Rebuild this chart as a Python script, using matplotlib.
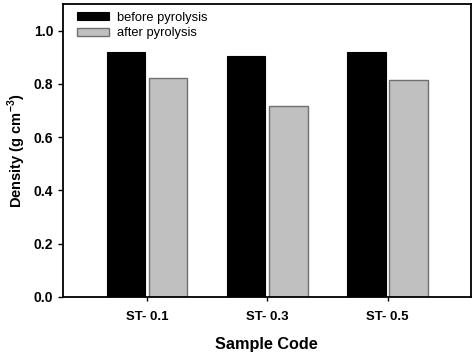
import matplotlib
matplotlib.use("Agg")
import matplotlib.pyplot as plt
import numpy as np

plt.rcParams['font.family'] = ['Liberation Sans', 'DejaVu Sans']
plt.rcParams['mathtext.fontset'] = 'custom'
plt.rcParams['mathtext.rm'] = 'Liberation Sans'
plt.rcParams['mathtext.bf'] = 'Liberation Sans:bold'

categories = ["ST- 0.1", "ST- 0.3", "ST- 0.5"]
before = [0.920, 0.906, 0.920]
after = [0.824, 0.718, 0.813]
yticks = [0.0, 0.2, 0.4, 0.6, 0.8, 1.0]

fig = plt.figure(figsize=(4.74, 3.56), dpi=100)
ax = fig.add_axes([63/474, 1-297/356, (470.5-63)/474, (297-4)/356])

x = np.arange(len(categories))
w = 0.318
ax.bar(x - 0.175, before, w, color='black', edgecolor='black', linewidth=0.8, label='before pyrolysis')
ax.bar(x + 0.175, after, w, color='#c0c0c0', edgecolor='#707070', linewidth=1.0, label='after pyrolysis')

ax.set_xlim(-0.70, 2.69)
ax.set_ylim(0, 1.1)
ax.set_xticks(x)
ax.set_xticklabels(categories, fontsize=9.5, fontweight='bold')
ax.set_yticks(yticks)
ax.set_yticklabels([f"{v:.1f}" for v in yticks], fontsize=10, fontweight='bold')
ax.tick_params(axis='y', direction='out', length=3.6, width=1.0, pad=3.5)
ax.tick_params(axis='x', direction='out', length=3, width=1.0, pad=7.2)
for s in ax.spines.values():
    s.set_linewidth(1.3)

ax.set_xlabel("Sample Code", fontsize=11.7, fontweight='bold', labelpad=10)
ax.set_ylabel("Density (g cm$^{\\mathbf{-3}}$)", fontsize=10.5, fontweight='bold', labelpad=4)

ax.legend(loc='upper left', frameon=False, fontsize=9.3, handlelength=2.45, handleheight=0.55,
          borderaxespad=0, borderpad=0, labelspacing=0.3, handletextpad=0.62,
          bbox_to_anchor=(0.034, 0.974))

fig.savefig("out.png", dpi=100)
